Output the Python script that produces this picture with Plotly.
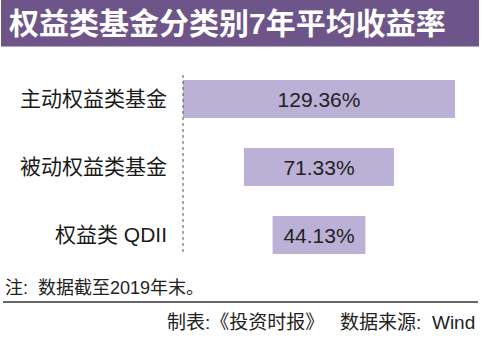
import plotly.graph_objects as go

categories = ["主动权益类基金", "被动权益类基金", "权益类 QDII"]
returns = [129.36, 71.33, 44.13]

title_text = "权益类基金分类别7年平均收益率"
note_text = "注:  数据截至2019年末。"
source_text = "制表:《投资时报》   数据来源:  Wind"

W, H = 482, 342
L, R, T, B = 183, 455, 65, 269  # plot area in pixels

def px(x):
    return (x - L) / (R - L)

def py(y):
    return (B - y) / (B - T)

FONT = "Liberation Sans, Arial, Noto Sans CJK SC, sans-serif"

fig = go.Figure(go.Funnel(
    y=categories,
    x=returns,
    texttemplate="%{x:.2f}%",
    textposition="inside",
    insidetextanchor="middle",
    textfont=dict(size=21, color="#222222", family=FONT),
    marker=dict(color="#BBB0D6", line=dict(width=0)),
    connector=dict(visible=False),
    hoverinfo="skip",
))

half = max(returns) / 2
fig.update_layout(
    width=W, height=H,
    margin=dict(l=L, r=W - R, t=T, b=H - B),
    paper_bgcolor="white", plot_bgcolor="white",
    funnelgap=0.44,
    showlegend=False,
    font=dict(family=FONT),
    xaxis=dict(visible=False, range=[-half, half], fixedrange=True),
    yaxis=dict(showgrid=False, zeroline=False, showline=False, ticks="",
               ticklabelstandoff=15,
               tickfont=dict(size=21, color="#1a1a1a", family=FONT)),
    shapes=[
        dict(type="rect", xref="paper", yref="paper",
             x0=px(1), x1=px(479), y0=py(0), y1=py(46.5),
             fillcolor="#6D5589", line=dict(width=0), layer="below"),
        dict(type="line", xref="paper", yref="paper",
             x0=0, x1=0, y0=py(75), y1=py(253),
             line=dict(color="#555555", width=1, dash="dot")),
        dict(type="line", xref="paper", yref="paper",
             x0=px(3), x1=px(478), y0=py(302), y1=py(302),
             line=dict(color="#333333", width=1.5)),
    ],
    annotations=[
        dict(text="<b>" + title_text + "</b>", xref="paper", yref="paper",
             x=px(7), y=py(23.5), xanchor="left", yanchor="middle",
             showarrow=False, font=dict(size=30, color="white", family=FONT)),
        dict(text=note_text, xref="paper", yref="paper",
             x=px(3), y=py(288), xanchor="left", yanchor="middle",
             showarrow=False, font=dict(size=18, color="#222222", family=FONT)),
        dict(text=source_text, xref="paper", yref="paper",
             x=px(477), y=py(322), xanchor="right", yanchor="middle",
             showarrow=False, font=dict(size=19, color="#222222", family=FONT)),
    ],
)

fig.write_html("out.html", config={"displayModeBar": False})
